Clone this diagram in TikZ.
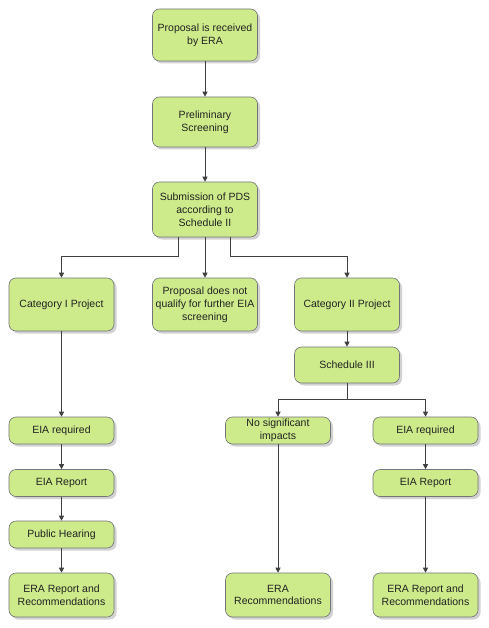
\documentclass[tikz,border=0pt]{standalone}
\usepackage{fontspec}
\setmainfont{Liberation Sans}
\usetikzlibrary{shadows,arrows.meta}
\definecolor{boxfill}{HTML}{CDEB8B}
\definecolor{boxline}{HTML}{36393D}
\definecolor{txt}{HTML}{222222}
\begin{document}
\begin{tikzpicture}[x=1pt,y=-1pt,
  box/.style={draw=boxline!70,line width=0.6pt,fill=boxfill,rounded corners=7pt,
    minimum width=105pt,align=center,inner sep=1pt,
    font=\fontsize{10.5}{12.8}\selectfont,text=txt,
    drop shadow={opacity=0.35,shadow xshift=2.5pt,shadow yshift=-2.5pt}},
  arr/.style={draw=black!75,line width=0.7pt,-{Triangle[length=5pt,width=5pt]}}]
\useasboundingbox[fill=white] (0,0) rectangle (488,628);
\node[box,minimum height=52pt] (recv) at (205,35) {Proposal is received\\by ERA};
\node[box,minimum height=50pt] (prelim) at (205,122) {Preliminary\\Screening};
\node[box,minimum height=55pt] (pds) at (205,209.5) {Submission of PDS\\according to\\Schedule II};
\node[box,minimum height=53pt] (cat1) at (61.5,304.5) {Category I Project};
\node[box,minimum height=53pt] (noq) at (205,304.5) {Proposal does not\\qualify for further EIA\\screening};
\node[box,minimum height=53pt] (cat2) at (347,304.5) {Category II Project};
\node[box,minimum height=36pt] (sch3) at (347,365) {Schedule III};
\node[box,minimum height=27pt] (eia1) at (61.5,430.5) {EIA required};
\node[box,minimum height=27pt] (rep1) at (61.5,483) {EIA Report};
\node[box,minimum height=27pt] (pub) at (61.5,534.5) {Public Hearing};
\node[box,minimum height=44pt] (era1) at (61.5,595) {ERA Report and\\Recommendations};
\node[box,minimum height=27pt] (nosig) at (278,430.5) {No significant\\impacts};
\node[box,minimum height=44pt] (erarec) at (278,595) {ERA\\Recommendations};
\node[box,minimum height=27pt] (eia2) at (425.5,430.5) {EIA required};
\node[box,minimum height=27pt] (rep2) at (425.5,483) {EIA Report};
\node[box,minimum height=44pt] (era2) at (425.5,595) {ERA Report and\\Recommendations};
\draw[arr] (recv) -- (prelim);
\draw[arr] (prelim) -- (pds);
\draw[arr] ([xshift=-27pt]pds.south) -- ++(0,19) -| (cat1.north);
\draw[arr] (pds) -- (noq);
\draw[arr] ([xshift=25pt]pds.south) -- ++(0,19) -| (cat2.north);
\draw[arr] (cat1) -- (eia1);
\draw[arr] (cat2) -- (sch3);
\draw[arr] (sch3.south) -- ++(0,16) -| (nosig.north);
\draw[arr] (sch3.south) -- ++(0,16) -| (eia2.north);
\draw[arr] (eia1) -- (rep1);
\draw[arr] (rep1) -- (pub);
\draw[arr] (pub) -- (era1);
\draw[arr] (nosig) -- (erarec);
\draw[arr] (eia2) -- (rep2);
\draw[arr] (rep2) -- (era2);
\end{tikzpicture}
\end{document}
